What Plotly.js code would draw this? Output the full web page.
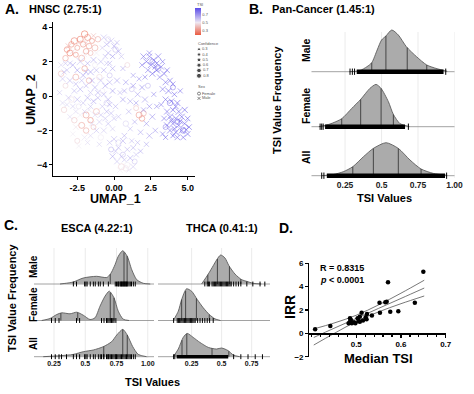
<!DOCTYPE html>
<html><head><meta charset="utf-8">
<script src="https://cdn.plot.ly/plotly-3.0.1.min.js"></script>
<style>html,body{margin:0;padding:0;background:#fff;overflow:hidden}#chart{width:474px;height:394px}</style>
</head><body><div id="chart"></div>
<script>
// ---------------- Panel A: HNSC UMAP ----------------
const femaleX = [-3.2,-3.0,-2.9,-2.7,-2.5,-2.3,-2.1,-2.0,-1.8,-1.7,-1.5,-1.3,-1.9,-2.6,-3.3,-1.1,-1.6,-2.2,
-3.6,-3.3,-2.6,-2.0,-1.7,-1.3,-2.9,-2.4,-1.9,-1.6,-2.2,-1.9,-1.4,-2.7,-1.2,-0.8,-0.5,-0.9,-2.5,-0.3,-3.4,-1.0,
1.7,1.9,2.0,1.5,1.2,0.8,2.3,3.0,2.6,3.8,4.3,4.7,3.5,4.0,
0.3,0.6,0.5,0.8,1.4,-0.2,0.9,-0.4,0.1,0.9];
const femaleY = [2.7,2.5,3.0,3.2,2.8,3.3,3.0,3.6,3.4,2.9,3.2,2.8,2.6,2.4,2.2,3.3,2.5,2.2,
1.3,0.6,1.1,1.6,0.9,1.8,-0.2,-0.6,-1.1,-1.4,-1.7,-2.0,-1.8,-1.4,-0.9,0.3,-0.4,-2.4,-2.6,1.2,-0.8,1.1,
-1.1,-1.3,-1.0,-0.7,0.4,-1.6,0.6,1.6,2.0,-0.4,-1.5,-2.0,-1.8,0.5,
-2.7,-3.4,-4.1,-4.2,-3.8,-3.1,-4.0,3.3,2.7,1.8];
const femaleTSI = [.28,.25,.30,.27,.32,.26,.30,.24,.28,.33,.30,.35,.31,.30,.34,.36,.38,.35,
.40,.45,.35,.32,.36,.50,.48,.52,.33,.30,.34,.36,.40,.42,.38,.50,.55,.50,.45,.60,.44,.46,
.32,.30,.36,.42,.60,.55,.62,.70,.72,.75,.76,.78,.72,.74,
.55,.60,.45,.48,.58,.62,.50,.55,.60,.45];
const femaleConf = [.5,.6,.5,.7,.4,.6,.5,.7,.6,.5,.4,.6,.5,.4,.5,.5,.4,.6,
.5,.4,.6,.5,.5,.4,.5,.4,.6,.5,.6,.5,.4,.5,.6,.4,.5,.5,.4,.4,.5,.5,
.6,.5,.5,.4,.4,.5,.4,.5,.4,.5,.4,.5,.4,.4,
.5,.4,.6,.5,.4,.4,.5,.4,.5,.4];

const maleX = [-3.1,-2.4,-1.9,-1.4,-2.8,-1.2,-0.7,-0.5,-0.2,0.0,0.2,0.3,-0.4,-0.1,0.5,-0.8,
-3.6,-3.5,-3.7,-3.2,-3.0,-2.8,-2.5,-2.3,-2.1,-1.8,-1.6,-1.4,-1.2,-0.9,-0.7,-0.5,-0.3,-0.6,-0.9,-1.3,-1.6,-1.9,-2.3,-2.7,-3.1,-2.8,-2.5,-2.1,-1.8,-1.4,-1.1,-0.8,-0.4,-0.1,0.2,0.1,-0.2,-0.6,-1.0,-1.3,-1.7,-2.3,-2.6,-3.0,-2.0,-1.6,-1.2,-0.7,-0.4,-2.4,-1.0,-3.5,-3.3,-0.1,0.4,0.6,0.3,-0.1,
0.8,1.1,1.3,1.6,1.9,2.1,2.4,2.7,1.0,1.4,2.2,2.6,2.8,2.4,1.8,1.1,0.7,1.3,0.6,2.2,
2.0,2.2,2.4,2.5,2.7,2.9,3.0,2.3,2.6,2.9,3.2,3.4,3.1,2.1,3.3,1.9,
3.5,3.8,3.3,3.7,4.1,3.5,3.9,4.3,3.2,4.5,
3.6,4.0,4.4,4.8,3.4,3.8,4.2,4.6,5.0,3.6,4.0,4.4,4.8,5.1,3.8,4.2,4.6,5.0,4.3,3.3,4.7,4.0,
-0.3,0.0,0.3,-0.1,0.2,0.6,0.9,1.1,1.3,1.6,1.5,1.3,1.0,0.4,1.8,0.7,
-3.4,-3.0,-2.6,-2.2,-1.9,-1.5,-1.1,-0.7,-0.3,-1.6,-2.0,-2.6,-3.2,-0.9,-0.5,0.0,-1.5,-2.8,-1.8,-0.3,
-0.6,-2.0,0.7,1.5,2.0,2.9,1.7,3.6,2.8,2.4,4.0,4.2,3.9,4.5,4.1,4.9,3.5,0.1,1.2,0.5];
const maleY = [2.9,3.1,3.1,3.5,2.6,2.5,3.4,3.0,3.2,2.9,3.1,2.6,2.5,2.3,2.3,2.8,
1.8,1.0,0.2,1.5,0.9,1.8,1.5,2.0,1.2,1.9,1.4,2.1,1.5,2.0,1.5,1.9,0.8,0.6,0.9,0.5,0.2,0.6,0.4,0.3,-0.1,-0.6,-0.2,-0.4,-0.1,-0.3,-0.1,-0.6,-0.2,0.3,0.9,-0.6,-1.0,-1.3,-1.5,-1.1,-0.8,-1.1,-1.8,-1.2,-2.4,-2.3,-2.0,-2.0,-1.6,-2.9,-2.8,-0.4,1.9,1.6,0.2,-0.2,-1.2,-1.9,
0.8,-0.3,0.6,0.1,0.5,-0.2,-0.6,0.1,-0.9,-1.5,-1.6,-1.2,-2.0,-2.3,-2.1,-1.9,-2.3,1.2,1.6,-2.8,
2.3,2.0,2.3,1.8,2.1,1.9,2.3,1.5,1.3,1.5,1.7,1.3,1.1,1.1,2.0,1.8,
0.8,0.9,0.4,0.3,0.1,-0.2,-0.3,-0.4,-0.5,0.3,
-0.9,-0.8,-0.9,-0.8,-1.3,-1.2,-1.3,-1.2,-1.3,-1.7,-1.6,-1.7,-1.6,-1.8,-2.0,-2.1,-2.0,-2.2,-2.4,-2.2,-2.4,-2.3,
-2.7,-2.5,-3.0,-3.5,-3.8,-2.6,-3.1,-3.6,-3.0,-2.7,-3.4,-4.1,-4.3,-4.3,-3.2,-3.7,
1.4,1.9,0.7,0.9,1.4,0.9,0.2,0.1,-0.5,-0.6,-0.9,-0.9,-0.5,-1.1,-0.9,-1.3,-1.6,-2.2,-2.7,1.9,
2.3,2.4,0.3,-0.4,-0.8,-0.6,1.0,1.5,1.7,2.5,0.7,-0.6,-1.4,-1.45,-1.9,-1.95,-2.4,-3.2,-2.6,-3.5];
const maleTSI = [.35,.40,.42,.38,.45,.50,.62,.65,.60,.66,.63,.68,.64,.70,.60,.58,
.55,.60,.58,.62,.64,.66,.70,.62,.68,.65,.70,.66,.64,.62,.66,.60,.64,.68,.62,.66,.60,.64,.66,.62,.60,.58,.64,.60,.66,.68,.64,.60,.66,.70,.68,.64,.62,.60,.58,.55,.52,.50,.48,.55,.52,.55,.60,.58,.62,.50,.56,.56,.60,.66,.62,.70,.60,.58,
.70,.66,.72,.68,.74,.70,.72,.74,.64,.66,.70,.72,.70,.68,.66,.62,.64,.70,.66,.66,
.80,.82,.78,.84,.80,.83,.80,.78,.82,.84,.80,.82,.78,.76,.80,.76,
.80,.82,.78,.84,.82,.80,.83,.85,.78,.80,
.82,.84,.83,.85,.80,.84,.86,.85,.84,.82,.85,.86,.84,.83,.82,.85,.84,.83,.80,.78,.82,.84,
.60,.62,.64,.66,.60,.65,.63,.66,.64,.62,.60,.58,.52,.50,.66,.60,
.60,.62,.64,.62,.66,.68,.66,.64,.66,.60,.58,.55,.56,.60,.64,.62,.56,.50,.54,.64,
.62,.50,.68,.70,.72,.74,.72,.82,.82,.80,.80,.84,.84,.85,.84,.82,.80,.62,.62,.60];
const maleConf = [.5,.4,.5,.4,.5,.6,.6,.5,.7,.5,.4,.6,.5,.4,.5,.4,
.5,.6,.4,.5,.7,.6,.5,.8,.6,.5,.7,.6,.5,.6,.5,.4,.6,.5,.7,.6,.5,.4,.6,.5,.6,.5,.7,.5,.6,.5,.6,.5,.7,.5,.6,.5,.6,.5,.6,.5,.4,.5,.5,.4,.6,.5,.5,.6,.5,.4,.4,.5,.4,.5,.4,.5,.5,.4,
.5,.6,.5,.6,.5,.6,.5,.4,.5,.4,.5,.6,.5,.6,.5,.4,.5,.4,.4,.4,
.6,.7,.5,.6,.7,.5,.6,.5,.6,.7,.5,.6,.5,.4,.4,.5,
.6,.5,.6,.7,.5,.6,.5,.6,.4,.4,
.6,.5,.7,.6,.5,.7,.8,.6,.5,.6,.7,.6,.8,.5,.6,.7,.6,.5,.5,.4,.5,.4,
.5,.6,.5,.6,.5,.6,.5,.6,.5,.4,.5,.6,.4,.5,.4,.4,
.4,.5,.4,.5,.4,.5,.4,.5,.4,.5,.4,.4,.4,.4,.5,.4,.4,.4,.4,.4,
.4,.4,.4,.4,.4,.4,.4,.5,.5,.4,.4,.5,.6,.5,.5,.5,.4,.4,.4,.4];

const umap1Ticks = [-2.5, 0, 2.5, 5];
const umap1Labels = ['-2.5', '0.00', '2.5', '5.0'];
const umap2Ticks = [-4, -2, 0, 2, 4];
const tsiBarTicks = [0.3, 0.5, 0.7];
const confLevels = [0.3, 0.4, 0.5, 0.6, 0.7, 0.8];
const sexLevels = ['Female', 'Male'];

// ---------------- Panel B: Pan-Cancer ridges ----------------
const bMaleX = [0.28,0.35,0.40,0.433,0.47,0.50,0.53,0.57,0.615,0.67,0.74,0.81,0.88,0.95];
const bMaleD = [0,1,5,9,21.7,31.7,35.7,41.7,36.7,25,15,6.7,3,0.4];
const bFemaleX = [0.07,0.147,0.227,0.296,0.357,0.42,0.462,0.497,0.547,0.581,0.627,0.69];
const bFemaleD = [0,2.7,8,18.3,27.3,38.3,42.3,38.3,25,12.3,3,0.2];
const bAllX = [0.09,0.17,0.238,0.303,0.376,0.444,0.531,0.615,0.695,0.771,0.855,0.95];
const bAllD = [0,1.2,4,9,19,27.3,33,27.3,15.7,6.7,2.3,0.4];
const bMaleQ = [0.433,0.53,0.676,0.81];
const bFemaleQ = [0.227,0.357,0.497,0.581];
const bAllQ = [0.303,0.444,0.615,0.771];
const bMaleRugBand = [0.33,0.925];
const bMaleRugTicks = [0.284,0.30,0.315,0.94];
const bFemaleRugBand = [0.113,0.661];
const bFemaleRugTicks = [0.079,0.09,0.10,0.684];
const bAllRugBand = [0.125,0.935];
const bAllRugTicks = [0.09,0.105,0.946];
const bTicks = [0.25,0.5,0.75,1.0];
const bTickLabels = ['0.25','0.5','0.75','1.00'];

// ---------------- Panel C: ESCA / THCA ridges ----------------
const eMaleX = [0.298,0.35,0.404,0.484,0.59,0.672,0.698,0.711,0.738,0.764,0.80,0.836,0.872,0.912,0.965,1.02];
const eMaleD = [0,0.8,2,6,7.7,6.5,9.5,12,19.3,27.7,33.3,27.7,14.3,4.3,0.7,0];
const eFemaleX = [0.152,0.218,0.272,0.312,0.378,0.432,0.484,0.538,0.578,0.618,0.658,0.692,0.73,0.764,0.804,0.85];
const eFemaleD = [0,2,6,7.7,6.7,8.3,5.3,1,2.7,14.3,24.3,29.3,22.7,9.3,1.3,0];
const eAllX = [0.164,0.298,0.404,0.484,0.564,0.644,0.711,0.752,0.80,0.836,0.88,0.924,0.99];
const eAllD = [0,1,2.3,5,6.7,10,15,21.7,27.3,21.7,10,2.3,0];
const eMaleQ = [0.70,0.81,0.835];
const eFemaleQ = [0.305,0.44,0.70,0.73];
const eAllQ = [0.648,0.80,0.836];
const eMaleRug = [0.405,0.43,0.495,0.505,0.515,0.54,0.565,0.58,0.605,0.62,0.645,0.685,0.74,0.75,0.76,0.765,0.77,0.78,0.785,0.79,0.795,0.80,0.805,0.81,0.815,0.82,0.825,0.83,0.835,0.84,0.85,0.86,0.87,0.885,0.9];
const eFemaleRug = [0.23,0.26,0.29,0.43,0.455,0.63,0.65,0.67,0.68,0.69,0.70,0.71,0.72,0.73,0.745];
const eAllRug = [0.23,0.26,0.29,0.31,0.35,0.405,0.43,0.455,0.495,0.505,0.515,0.54,0.565,0.58,0.605,0.62,0.63,0.645,0.65,0.67,0.68,0.685,0.69,0.70,0.71,0.72,0.73,0.74,0.745,0.75,0.76,0.77,0.78,0.79,0.80,0.81,0.82,0.83,0.84,0.85,0.86,0.87,0.885,0.9];
const eTicks = [0.25,0.5,0.75,1.0];
const eTickLabels = ['0.25','0.5','0.75','1.00'];

const tMaleX = [0.333,0.389,0.43,0.458,0.492,0.528,0.561,0.611,0.667,0.708,0.763,0.83];
const tMaleD = [0,10,18.3,24,29,26,18.3,10,4.3,2.7,0.7,0];
const tFemaleX = [0.097,0.139,0.167,0.208,0.25,0.297,0.347,0.397,0.444,0.49];
const tFemaleD = [0,9.3,21,31.7,29.3,21,12.7,6,1.7,0];
const tAllX = [0.097,0.139,0.18,0.213,0.263,0.319,0.389,0.458,0.50,0.555,0.597,0.65];
const tAllD = [0,7.7,19.3,23.3,19.3,14.3,9.3,7.7,8.7,6,1.7,0];
const tMaleQ = [0.385,0.465,0.565,0.66];
const tFemaleQ = [0.167,0.20,0.29,0.397];
const tAllQ = [0.17,0.21,0.42,0.56];
const tMaleRug = [0.36,0.38,0.39,0.40,0.42,0.43,0.44,0.45,0.46,0.47,0.48,0.49,0.50,0.51,0.52,0.53,0.54,0.55,0.56,0.57,0.58,0.60,0.62,0.64,0.66,0.71,0.76,0.82,0.86];
const tFemaleRug = [0.10,0.13,0.14,0.15,0.16,0.17,0.18,0.19,0.20,0.21,0.22,0.23,0.24,0.25,0.26,0.27,0.28,0.30,0.32,0.34,0.36,0.38,0.40,0.43];
const tAllRugBand = [0.125,0.555];
const tAllRugTicks = [0.10,0.11,0.60,0.66,0.72,0.78,0.84];
const tTicks = [0.25,0.5,0.75];
const tTickLabels = ['0.25','0.5','0.75'];

// ---------------- Panel D: IRR vs median TSI ----------------
const dTSI = [0.408,0.442,0.483,0.486,0.486,0.488,0.49,0.495,0.498,0.503,0.505,0.508,0.508,0.512,0.515,0.521,0.523,0.524,0.535,0.552,0.553,0.565,0.568,0.571,0.576,0.594,0.631,0.65];
const dIRR = [0.35,0.63,0.86,1.29,1.0,1.15,0.86,0.95,0.86,1.29,1.06,1.0,1.43,1.77,1.1,1.37,1.2,1.66,1.52,2.63,1.77,2.66,2.71,4.37,1.86,1.89,2.63,5.28];
const dFitX = [0.405,0.45,0.50,0.55,0.60,0.652];
const dFitY = [-0.35,0.43,1.28,2.14,2.99,3.88];
const dUpper = [0.38,0.88,1.55,2.44,3.44,4.55];
const dLower = [-1.0,-0.02,1.01,1.84,2.54,3.2];
const dXTicks = [0.5,0.6,0.7];
const dYTicks = [-2,0,2,4,6];

// ---------------- helpers ----------------
const W = 474, H = 394;
const px = v => v / W;
const py = v => 1 - v / H;
const F = 'Liberation Sans, Arial, sans-serif';
const tsiScale = [[0,'#EA5A3F'],[0.46,'#EEE8F2'],[1,'#5A4BE8']];

function interp(xs, ys, q) {
  for (let i = 0; i < xs.length - 1; i++) {
    if (q >= xs[i] && q <= xs[i+1]) {
      const t = (q - xs[i]) / (xs[i+1] - xs[i]);
      return ys[i] + t * (ys[i+1] - ys[i]);
    }
  }
  return 0;
}

const traces = [];
function ridge(xa, ya, xs, ds, qs, ticks, band, tickSz, bandW) {
  traces.push({type:'scatter', mode:'lines', x:xs, y:ds, xaxis:xa, yaxis:ya,
    fill:'tozeroy', fillcolor:'#ababab',
    line:{color:'#4f4f4f', width:0.8, shape:'spline', smoothing:0.7}, hoverinfo:'skip'});
  const qx = [], qy = [];
  qs.forEach(q => { qx.push(q, q, null); qy.push(0, interp(xs, ds, q), null); });
  traces.push({type:'scatter', mode:'lines', x:qx, y:qy, xaxis:xa, yaxis:ya,
    line:{color:'#3a3a3a', width:0.9}, hoverinfo:'skip'});
  if (band) traces.push({type:'scatter', mode:'lines', x:band, y:[0,0], xaxis:xa, yaxis:ya,
    line:{color:'#000', width:bandW}, hoverinfo:'skip'});
  if (ticks && ticks.length) traces.push({type:'scatter', mode:'markers', x:ticks, y:ticks.map(() => 0),
    xaxis:xa, yaxis:ya, cliponaxis:false,
    marker:{symbol:'line-ns-open', size:tickSz, color:'#000', line:{color:'#000', width:1}}, hoverinfo:'skip'});
}

// ---------- A traces ----------
traces.push({type:'scatter', mode:'markers', x:femaleX, y:femaleY, xaxis:'x', yaxis:'y',
  marker:{symbol:'circle-open', size:femaleConf.map(c => 3 + 5*c), color:femaleTSI,
    colorscale:tsiScale, cmin:0.2, cmax:0.85, line:{width:0.8}}, hoverinfo:'skip'});
traces.push({type:'scatter', mode:'markers', x:maleX, y:maleY, xaxis:'x', yaxis:'y',
  marker:{symbol:'x-thin-open', size:maleConf.map(c => 3 + 5*c), color:maleTSI,
    colorscale:tsiScale, cmin:0.2, cmax:0.85, line:{width:0.75},
    showscale:true,
    colorbar:{x:px(195), xanchor:'left', y:py(8), yanchor:'top', lenmode:'pixels', len:27,
      thicknessmode:'pixels', thickness:6, outlinewidth:0, xpad:0, ypad:0,
      tickvals:tsiBarTicks, ticktext:tsiBarTicks.map(v => v.toFixed(1)), ticks:'', ticklabelposition:'outside',
      tickfont:{size:4, family:F, color:'#555'}}}, hoverinfo:'skip'});
// legend: confidence
traces.push({type:'scatter', mode:'markers+text', x:confLevels.map(() => 0.1), y:confLevels,
  xaxis:'x6', yaxis:'y12', text:confLevels.map(v => v.toFixed(1)), textposition:'middle right',
  textfont:{size:4, family:F, color:'#555'}, cliponaxis:false,
  marker:{symbol:'circle', size:confLevels.map(c => 1.8 + 4*c), color:'#000'}, hoverinfo:'skip'});
// legend: sex
traces.push({type:'scatter', mode:'markers+text', x:[0.1,0.1], y:sexLevels,
  xaxis:'x6', yaxis:'y13', text:sexLevels, textposition:'middle right',
  textfont:{size:4, family:F, color:'#555'}, cliponaxis:false,
  marker:{symbol:['circle-open','x-thin-open'], size:3, color:'#666', line:{width:0.8, color:'#666'}}, hoverinfo:'skip'});

// ---------- B traces ----------
ridge('x2','y2', bMaleX, bMaleD, bMaleQ, bMaleRugTicks, bMaleRugBand, 4.5, 4.5);
ridge('x2','y3', bFemaleX, bFemaleD, bFemaleQ, bFemaleRugTicks, bFemaleRugBand, 4.5, 4.5);
ridge('x2','y4', bAllX, bAllD, bAllQ, bAllRugTicks, bAllRugBand, 4.5, 4.5);

// ---------- C traces ----------
ridge('x3','y5', eMaleX, eMaleD, eMaleQ, eMaleRug, null, 3.5, 0);
ridge('x3','y6', eFemaleX, eFemaleD, eFemaleQ, eFemaleRug, null, 3.5, 0);
ridge('x3','y7', eAllX, eAllD, eAllQ, eAllRug, null, 3.5, 0);
ridge('x4','y8', tMaleX, tMaleD, tMaleQ, tMaleRug, null, 3.5, 0);
ridge('x4','y9', tFemaleX, tFemaleD, tFemaleQ, tFemaleRug, null, 3.5, 0);
ridge('x4','y10', tAllX, tAllD, tAllQ, tAllRugTicks, tAllRugBand, 3.5, 3.5);

// ---------- D traces ----------
[dUpper, dFitY, dLower].forEach(arr => traces.push({type:'scatter', mode:'lines', x:dFitX, y:arr,
  xaxis:'x5', yaxis:'y11', line:{color:'#555', width:0.8, shape:'spline'}, hoverinfo:'skip'}));
traces.push({type:'scatter', mode:'markers', x:dTSI, y:dIRR, xaxis:'x5', yaxis:'y11', cliponaxis:false,
  marker:{symbol:'circle', size:4.5, color:'#000'}, hoverinfo:'skip'});

// ---------- axes ----------
const hid = {visible:false, fixedrange:true};
function ydomRidge(base, h) { return [py(base + 4), py(base - h)]; }
const B_H = 45, C_H = 34;
const bBase = {y2:71.7, y3:126.7, y4:175.7};
const cBase = {y5:284, y6:320.5, y7:356.7, y8:284, y9:320.5, y10:356.7};

const layout = {
  width: W, height: H, margin:{l:0,r:0,t:0,b:0}, showlegend:false,
  paper_bgcolor:'#fff', plot_bgcolor:'rgba(0,0,0,0)',
  font:{family:F, color:'#000'},
  xaxis:{domain:[px(53), px(195)], range:[-4.15, 5.5], anchor:'y', showline:true, linecolor:'#000', linewidth:1,
    ticks:'outside', ticklen:3, tickcolor:'#000', tickvals:umap1Ticks, ticktext:umap1Labels,
    showgrid:false, zeroline:false, tickfont:{size:9, family:F, weight:'bold', color:'#000'}},
  yaxis:{domain:[py(176), py(22)], range:[-4.64, 4.3], anchor:'x', showline:true, linecolor:'#000', linewidth:1,
    ticks:'outside', ticklen:3, tickcolor:'#000', tickvals:umap2Ticks,
    showgrid:false, zeroline:false, tickfont:{size:9, family:F, weight:'bold', color:'#000'}},
  xaxis2:{domain:[px(311.5), px(454.5)], range:[0.02, 1.0], anchor:'free', position:py(178),
    tickvals:bTicks, ticktext:bTickLabels, ticks:'', showline:false, showgrid:false, zeroline:false,
    tickfont:{size:8.5, family:F, weight:'bold', color:'#222'}},
  xaxis3:{domain:[px(34), px(154)], range:[0.09, 1.05], anchor:'free', position:py(357.5),
    tickvals:eTicks, ticktext:eTickLabels, ticks:'', showline:false, showgrid:false, zeroline:false,
    tickfont:{size:7, family:F, weight:'bold', color:'#111'}},
  xaxis4:{domain:[px(158), px(270)], range:[-0.03, 0.903], anchor:'free', position:py(357.5),
    tickvals:tTicks, ticktext:tTickLabels, ticks:'', showline:false, showgrid:false, zeroline:false,
    tickfont:{size:7, family:F, weight:'bold', color:'#111'}},
  xaxis5:{domain:[px(309.3), px(445.7)], range:[0.395, 0.7], anchor:'free', position:py(333.3),
    showline:true, linecolor:'#000', linewidth:1.2, ticks:'outside', ticklen:3, tickcolor:'#000', tickwidth:1.2,
    tickvals:dXTicks, showgrid:false, zeroline:false,
    minor:{tickmode:'linear', tick0:0.4, dtick:0.02, ticks:'outside', ticklen:2, tickcolor:'#000', showgrid:false},
    tickfont:{size:8, family:F, weight:'bold', color:'#000'}},
  yaxis11:{domain:[py(356.7), py(263.3)], range:[-2, 6], anchor:'x5', showline:true, linecolor:'#000', linewidth:1.2,
    ticks:'outside', ticklen:3, tickcolor:'#000', tickwidth:1.2, tickvals:dYTicks, showgrid:false, zeroline:false,
    tickfont:{size:8, family:F, weight:'bold', color:'#000'}},
  xaxis6:Object.assign({domain:[px(196), px(226)], range:[0,1], anchor:'y12'}, hid),
  yaxis12:Object.assign({domain:[py(79), py(46)], range:[0.86, 0.24], anchor:'x6'}, hid),
  yaxis13:Object.assign({domain:[py(102), py(90)], type:'category', range:[-0.5, 1.5], autorange:'reversed', anchor:'x6'}, hid),
  shapes:[], annotations:[]
};
Object.keys(bBase).forEach(k => {
  layout['yaxis' + k.slice(1)] = Object.assign({domain:ydomRidge(bBase[k], B_H), range:[-4, B_H], anchor:'x2'}, hid);
});
Object.keys(cBase).forEach(k => {
  const n = +k.slice(1);
  layout['yaxis' + n] = Object.assign({domain:ydomRidge(cBase[k], C_H), range:[-4, C_H], anchor: n <= 7 ? 'x3' : 'x4'}, hid);
});

// gridlines & baselines
bTicks.forEach(v => layout.shapes.push({type:'line', xref:'x2', yref:'paper', x0:v, x1:v, y0:py(178), y1:py(32),
  line:{color:'#e6e6e6', width:0.8}, layer:'below'}));
eTicks.forEach(v => layout.shapes.push({type:'line', xref:'x3', yref:'paper', x0:v, x1:v, y0:py(358), y1:py(248),
  line:{color:'#e6e6e6', width:0.8}, layer:'below'}));
tTicks.forEach(v => layout.shapes.push({type:'line', xref:'x4', yref:'paper', x0:v, x1:v, y0:py(358), y1:py(248),
  line:{color:'#e6e6e6', width:0.8}, layer:'below'}));
['y2','y3','y4'].forEach(ya => layout.shapes.push({type:'line', xref:'x2 domain', yref:ya, x0:0, x1:1, y0:0, y1:0,
  line:{color:'#8a8a8a', width:0.8}, layer:'below'}));
['y5','y6','y7'].forEach(ya => layout.shapes.push({type:'line', xref:'x3 domain', yref:ya, x0:0, x1:1, y0:0, y1:0,
  line:{color:'#8a8a8a', width:0.8}, layer:'below'}));
['y8','y9','y10'].forEach(ya => layout.shapes.push({type:'line', xref:'x4 domain', yref:ya, x0:0, x1:1, y0:0, y1:0,
  line:{color:'#8a8a8a', width:0.8}, layer:'below'}));

function ann(text, x, y, size, opt) {
  opt = opt || {};
  layout.annotations.push({text:text, x:px(x), y:py(y), xref:'paper', yref:'paper', showarrow:false,
    xanchor:opt.xa || 'center', yanchor:'middle', textangle:opt.rot || 0,
    font:{family:F, size:size, color:opt.color || '#000', weight:opt.w || 'bold'}});
}
// A
ann('A.', 3, 9, 14, {xa:'left'});
ann('HNSC (2.75:1)', 27, 9, 11, {xa:'left'});
ann('UMAP_2', 31, 100, 12.5, {rot:-90});
ann('UMAP_1', 115, 199, 12.5);
ann('TSI', 195, 4.5, 4, {xa:'left', color:'#555', w:'normal'});
ann('Confidence', 196, 43, 4, {xa:'left', color:'#555', w:'normal'});
ann('Sex', 196, 86, 4, {xa:'left', color:'#555', w:'normal'});
// B
ann('B.', 247, 9, 14, {xa:'left'});
ann('Pan-Cancer (1.45:1)', 270, 9, 11, {xa:'left'});
ann('TSI Value Frequency', 277, 100, 11, {rot:-90});
ann('Male', 306, 50, 10.5, {rot:-90});
ann('Female', 306, 106, 10.5, {rot:-90});
ann('All', 306, 157, 10.5, {rot:-90});
ann('TSI Values', 384, 198, 11);
// C
ann('C.', 2, 225, 14, {xa:'left'});
ann('ESCA (4.22:1)', 97, 228, 11);
ann('THCA (0.41:1)', 222, 228, 11);
ann('TSI Value Frequency', 12, 298, 11, {rot:-90});
ann('Male', 33, 267, 10, {rot:-90});
ann('Female', 33, 305, 10, {rot:-90});
ann('All', 33, 344, 10, {rot:-90});
ann('TSI Values', 152, 382, 11);
// D
ann('D.', 277, 228, 14, {xa:'left'});
ann('IRR', 290, 307, 14, {rot:-90});
ann('Median TSI', 378, 358, 13);
ann('R = 0.8315', 318, 268, 9, {xa:'left'});
ann('<i>p</i> &lt; 0.0001', 318, 280, 9, {xa:'left'});

Plotly.newPlot('chart', traces, layout, {staticPlot:true, displayModeBar:false});
</script></body></html>
